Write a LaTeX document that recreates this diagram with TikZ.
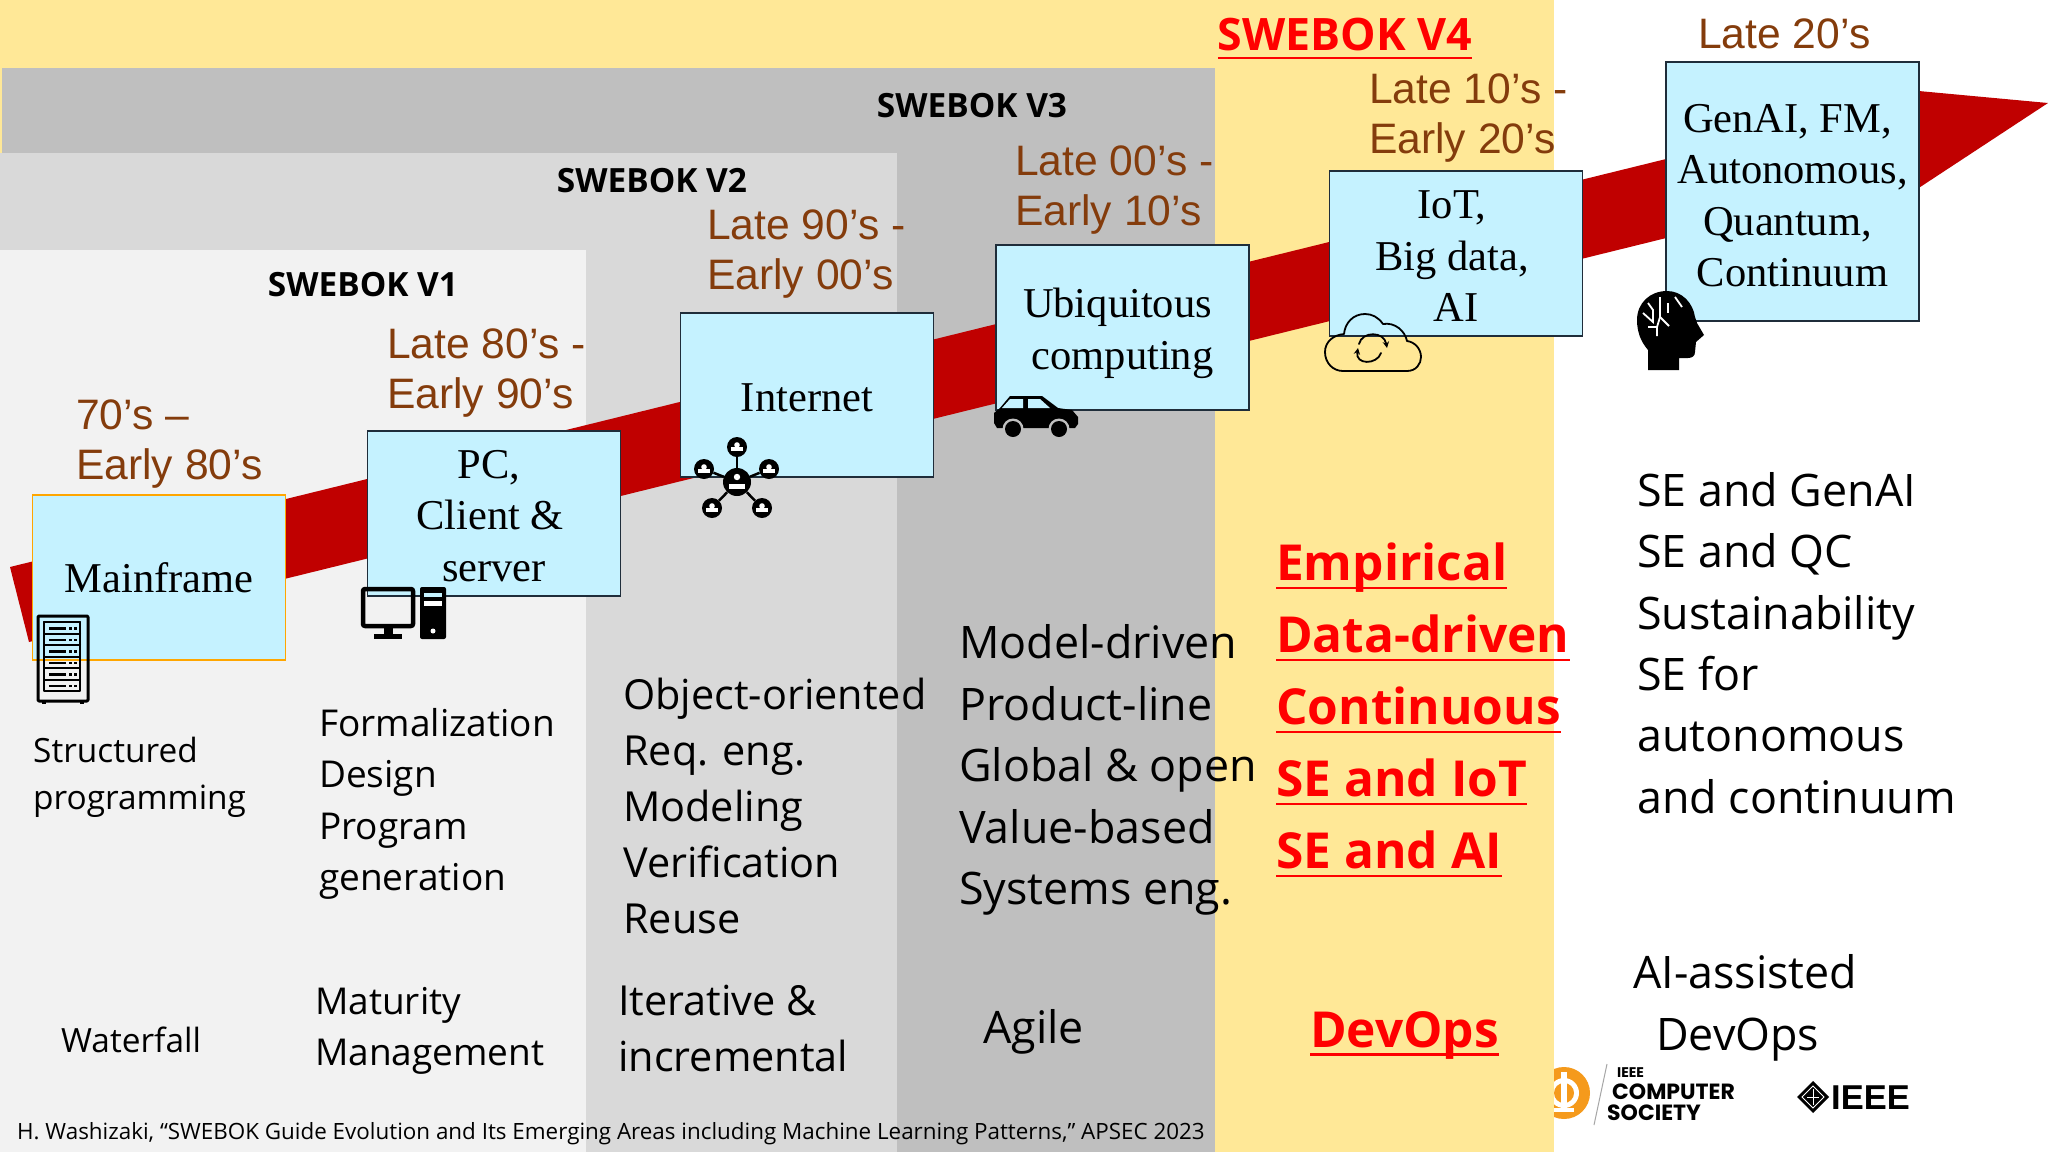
\documentclass[tikz,border=0pt]{standalone}
\usepackage{fontspec}
\setmainfont{Open Sans}
\newfontfamily\cardfont{Liberation Serif}
\newfontfamily\erafont{Liberation Sans}
\newfontfamily\logofont{Poppins}
\definecolor{pageyellow}{HTML}{FFE897}
\definecolor{vthree}{HTML}{BFBFBF}
\definecolor{vtwo}{HTML}{D9D9D9}
\definecolor{vone}{HTML}{F2F2F2}
\definecolor{bandred}{HTML}{C00000}
\definecolor{cardblue}{HTML}{C5F2FF}
\definecolor{cardedge}{HTML}{1F2D3A}
\definecolor{erabrown}{HTML}{843C0C}
\definecolor{logoorange}{HTML}{F59A1C}
\newsavebox\redlinebox
\newcommand{\redline}[1]{\sbox\redlinebox{#1}\usebox\redlinebox\llap{\rule[-8.5pt]{\wd\redlinebox}{2.6pt}}}
\newcommand{\cardlift}[1]{\rule{0pt}{#1pt}}
\newcommand{\cardpad}[1]{\hbox to #1pt{}}
\tikzset{
	cardbox/.style={draw=cardedge,line width=1.5pt,fill=cardblue,inner sep=0pt,minimum width=253pt,align=center,font=\cardfont\fontsize{42.5}{51.5}\selectfont},
	eralabel/.style={anchor=west,inner sep=0pt,align=left,text=erabrown,font=\erafont\fontsize{42.6}{50.5}\selectfont},
	versionlabel/.style={inner sep=0pt,font=\bfseries\fontsize{33.4}{38}\selectfont},
	itemtext/.style 2 args={anchor=west,inner sep=0pt,align=left,font=\fontsize{#1}{#2}\selectfont},
	reditem/.style={anchor=west,inner sep=0pt,align=left,text=red,font=\bfseries\fontsize{49.6}{72}\selectfont},
	iconline/.style={draw=black,line width=#1,line cap=round,line join=round},
	peoplenode/.style={circle,fill=black,inner sep=0pt,minimum size=#1}
}
\begin{document}
\begin{tikzpicture}[x=1pt,y=-1pt]
	\useasboundingbox (0,0) rectangle (2048,1152);
	\fill [white](0,0) rectangle (2048,1152);
	\fill [pageyellow](0,0) rectangle (1554,1152);
	\fill [vthree](2,68) rectangle (1215,1152);
	\fill [vtwo](0,153) rectangle (897,1152);
	\fill [vone](0,250) rectangle (586,1152);
	\fill [bandred](10,567)--(1800,126)--(1800,80)--(2048,103)--(1800,266)--(1800,205)--(29,642)--cycle;

	\node [cardbox,draw=orange!70!yellow,minimum height=165pt] (mainframe) at (159,577.5) {Mainframe};
	\node [cardbox,minimum height=165pt] (client) at (494,513.5) {\cardlift{33}PC,\cardpad{10}\\Client \&\cardpad{8}\\server};
	\node [cardbox,minimum height=164pt] (internet) at (807,395) {\cardlift{34}Internet};
	\node [cardbox,minimum height=165pt] (ubiquitous) at (1122.5,327.5) {\cardlift{41}Ubiquitous\cardpad{10}\\computing};
	\node [cardbox,minimum height=165pt] (iot) at (1456,253.5) {\cardlift{33}IoT,\cardpad{8}\\Big data,\cardpad{8}\\AI};
	\node [cardbox,minimum height=259pt] (genai) at (1792.5,191.5) {\cardlift{36}GenAI, FM,\cardpad{10}\\Autonomous,\\Quantum,\cardpad{10}\\Continuum};

	\node [eralabel] (eraone) at (76,444) {70’s –\\Early 80’s};
	\node [eralabel] (eratwo) at (387,373) {Late 80’s -\\Early 90’s};
	\node [eralabel] (erathree) at (707,254) {Late 90’s -\\Early 00’s};
	\node [eralabel] (erafour) at (1015,190) {Late 00’s -\\Early 10’s};
	\node [eralabel] (erafive) at (1369,118) {Late 10’s -\\Early 20’s};
	\node [eralabel] (erasix) at (1698,34) {Late 20’s};

	\node [versionlabel] (vonelabel) at (363,285) {SWEBOK V1};
	\node [versionlabel] (vtwolabel) at (652,181) {SWEBOK V2};
	\node [versionlabel] (vthreelabel) at (972,106) {SWEBOK V3};
	\node [inner sep=0pt,text=red,font=\bfseries\fontsize{44.7}{48}\selectfont] (vfourlabel) at (1345,39) {\redline{SWEBOK V4}};

	\node [itemtext={33.4}{47}] (structured) at (33,777) {Structured\\programming};
	\node [itemtext={37}{51.5}] (formal) at (319,804) {Formalization\\Design\\Program\\generation};
	\node [itemtext={41.4}{56}] (objects) at (623,806) {Object-oriented\\Req. eng.\\Modeling\\Verification\\Reuse};
	\node [itemtext={44.8}{61.4}] (models) at (959,770) {Model-driven\\Product-line\\Global \& open\\Value-based\\Systems eng.};
	\node [reditem] (empirical) at (1276,710) {\redline{Empirical}\\\redline{Data-driven}\\\redline{Continuous}\\\redline{SE and IoT}\\\redline{SE and AI}};
	\node [itemtext={44.8}{61.4}] (genaise) at (1637,643) {SE and GenAI\\SE and QC\\Sustainability\\SE for\\autonomous\\and continuum};

	\node [itemtext={33.4}{47}] (waterfall) at (61,1040) {Waterfall};
	\node [itemtext={37}{51.5}] (maturity) at (315,1031) {Maturity\\Management};
	\node [itemtext={41.4}{56}] (iterative) at (618,1028) {Iterative \&\\incremental};
	\node [itemtext={44.8}{61.4}] (agile) at (983,1032) {Agile};
	\node [reditem] (devops) at (1310,1035) {\redline{DevOps}};
	\node [itemtext={44.8}{61.4}] (assisted) at (1633,1008) {AI-assisted\\\hspace*{23pt}DevOps};
	\node [anchor=west,inner sep=0pt,font=\fontsize{22.4}{28}\selectfont] (citation) at (17,1134) {H. Washizaki, “SWEBOK Guide Evolution and Its Emerging Areas including Machine Learning Patterns,” APSEC 2023};

	\draw [iconline=3pt,rounded corners=1pt](38,616) rectangle (88,701);
	\draw [iconline=2pt](44,622) rectangle (80,691);
	\foreach \y in {622,633.5,645,656.5,668,679.5}{
		\draw [iconline=2pt](44,\y)--(80,\y);
		\fill (49,\y+5) rectangle (66,\y+7.5);
		\fill (69,\y+5) rectangle (72,\y+7.5);
		\fill (74,\y+5) rectangle (77,\y+7.5);
	}
	\fill (42,701) rectangle (46,704);
	\fill (80,701) rectangle (84,704);

	\draw [iconline=4.5pt,rounded corners=2pt](363,589) rectangle (413,626);
	\fill (384,627) rectangle (393,635);
	\fill (374,634) rectangle (402,639);
	\fill [rounded corners=2pt](420,587) rectangle (446,639);
	\fill [cardblue](424,593) rectangle (442,597);
	\fill [white](424,601) rectangle (442,606);
	\fill [white](433,631) circle (2.5);

	\node [peoplenode=28pt] (hub) at (737,482) {};
	\node [peoplenode=20pt] (peoplea) at (737,447) {};
	\node [peoplenode=20pt] (peopleb) at (704,469) {};
	\node [peoplenode=20pt] (peoplec) at (769,469) {};
	\node [peoplenode=20pt] (peopled) at (712,508) {};
	\node [peoplenode=20pt] (peoplee) at (762,508) {};
	\foreach \n in {peoplea,peopleb,peoplec,peopled,peoplee}{
		\draw [line width=2.5pt](hub)--(\n);
		\fill [white]([yshift=2pt]\n.center) circle (2.8);
		\fill [white]([shift={(-6pt,-3.5pt)}]\n.center) rectangle ([shift={(6pt,0.5pt)}]\n.center);
	}
	\fill [white](737,477) circle (3.2);
	\fill [white](729,489) rectangle (745,484);

	\fill (1010,396)--(1042,396)--(1058,408)--(1072,410)--(1078,417)--(1078,424)--(1075,428)--(997,428)--(994,423)--(994,413)--(1000,408)--cycle;
	\fill [cardblue](1002,408)--(1010,399)--(1023,399)--(1023,408)--cycle;
	\fill [cardblue](1028,399)--(1040,399)--(1050,408)--(1028,408)--cycle;
	\fill [vthree](1013,429) circle (10.5);
	\fill [vthree](1059,429) circle (10.5);
	\fill (1013,429) circle (8);
	\fill (1059,429) circle (8);

	\draw [iconline=1.8pt](1344,334) .. controls (1333,335) and (1325,342) .. (1325,352) .. controls (1325,363) and (1333,371) .. (1343,371)--(1407,371) .. controls (1416,371) and (1421,364) .. (1421,357) .. controls (1421,349) and (1415,342) .. (1407,341) .. controls (1405,331) and (1395,322) .. (1383,324) .. controls (1378,317) and (1372,314) .. (1365,314) .. controls (1353,314) and (1345,323) .. (1344,334);
	\draw [iconline=1.8pt,-stealth](1359,344) .. controls (1362,331) and (1384,331) .. (1387,348);
	\draw [iconline=1.8pt,-stealth](1381,353) .. controls (1377,365) and (1355,365) .. (1358,348);

	\fill (1648,370)--(1648,350) .. controls (1641,342) and (1637,332) .. (1637,320) .. controls (1637,303) and (1650,291) .. (1667,291) .. controls (1682,291) and (1693,303) .. (1695,317)--(1697,323)--(1704,335)--(1696,342)--(1695,352) .. controls (1695,356) and (1692,358) .. (1688,358)--(1679,358)--(1679,370)--cycle;
	\draw [white,line width=1.8pt](1660,297)--(1660,317)--(1657,327)--(1657,336);
	\draw [white,line width=1.8pt](1660,317)--(1669,326);
	\draw [white,line width=1.8pt](1657,327)--(1648,327);
	\draw [white,line width=1.8pt](1648,303)--(1653,310)--(1653,322)--(1643,313);
	\draw [white,line width=1.8pt](1668,303)--(1668,313);
	\draw [white,line width=1.8pt](1675,297)--(1682,307);

	\begin{scope}
		\clip (1554,1060) rectangle (1600,1125);
		\fill [logoorange](1564,1093) circle (26);
		\fill [white](1564,1093) circle (15);
		\fill [logoorange](1564,1093) circle (10);
		\fill [white](1561,1072) rectangle (1567,1110);
		\fill [white](1554,1108) rectangle (1574,1112);
	\end{scope}
	\draw [gray!70,line width=1pt](1607,1064)--(1594,1125);
	\node [inner sep=0pt,anchor=west,font=\logofont\bfseries\fontsize{14}{14}\selectfont] (logoieee) at (1617,1073) {IEEE};
	\node [inner sep=0pt,anchor=west,font=\logofont\bfseries\fontsize{22}{22}\selectfont] (logocomputer) at (1612,1092) {COMPUTER};
	\node [inner sep=0pt,anchor=west,font=\logofont\bfseries\fontsize{22}{22}\selectfont] (logosociety) at (1607,1113) {SOCIETY};
	\fill (1813,1081)--(1829,1097)--(1813,1113)--(1797,1097)--cycle;
	\draw [white,line width=1pt](1813,1086)--(1824,1097)--(1813,1108)--(1802,1097)--cycle;
	\draw [white,line width=1pt](1813,1089)--(1813,1105);
	\draw [white,line width=1pt](1807,1097)--(1819,1097);
	\node [inner sep=0pt,anchor=west,font=\erafont\bfseries\fontsize{34.5}{35}\selectfont] (logoieeetwo) at (1831,1098) {IEEE};
\end{tikzpicture}
\end{document}
